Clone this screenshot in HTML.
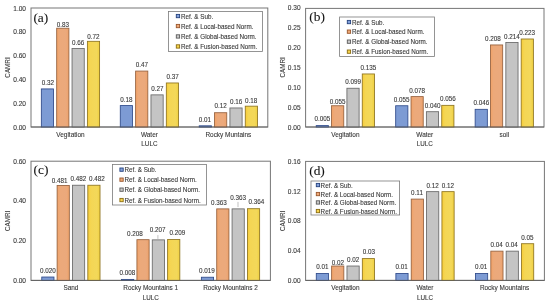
<!DOCTYPE html>
<html><head><meta charset="utf-8"><style>
html,body{margin:0;padding:0;background:#fff;}
body{width:550px;height:305px;overflow:hidden;}
svg{display:block;font-family:"Liberation Sans",sans-serif;filter:blur(0.3px);}
svg text{fill:#383838;stroke:#383838;stroke-width:0.1px;}
</style></head><body>
<svg width="550" height="305" viewBox="0 0 550 305">
<defs>
<linearGradient id="go" x1="0" y1="0" x2="1" y2="0"><stop offset="0" stop-color="#f2a266"/><stop offset="0.25" stop-color="#eca97a"/><stop offset="0.75" stop-color="#eba97c"/><stop offset="1" stop-color="#eea26a"/></linearGradient>
<linearGradient id="gy" x1="0" y1="0" x2="1" y2="0"><stop offset="0" stop-color="#f8cc36"/><stop offset="0.25" stop-color="#f4d654"/><stop offset="0.75" stop-color="#f3d85a"/><stop offset="1" stop-color="#f0d040"/></linearGradient>
</defs>
<rect width="550" height="305" fill="#fff"/>
<rect x="31.00" y="8.00" width="236.80" height="119.00" fill="none" stroke="#767676" stroke-width="1"/>
<text x="26.00" y="127.00" text-anchor="end" font-size="6.55" dominant-baseline="central">0.00</text>
<text x="26.00" y="103.20" text-anchor="end" font-size="6.55" dominant-baseline="central">0.20</text>
<text x="26.00" y="79.40" text-anchor="end" font-size="6.55" dominant-baseline="central">0.40</text>
<text x="26.00" y="55.60" text-anchor="end" font-size="6.55" dominant-baseline="central">0.60</text>
<text x="26.00" y="31.80" text-anchor="end" font-size="6.55" dominant-baseline="central">0.80</text>
<text x="26.00" y="8.00" text-anchor="end" font-size="6.55" dominant-baseline="central">1.00</text>
<rect x="41.34" y="88.92" width="12.20" height="38.08" fill="#7d9bd4" stroke="#2e4a8a" stroke-width="0.85"/>
<text x="47.80" y="82.70" text-anchor="middle" font-size="6.3" dominant-baseline="central">0.32</text>
<rect x="56.69" y="28.23" width="12.20" height="98.77" fill="url(#go)" stroke="#94603e" stroke-width="0.85"/>
<text x="63.00" y="24.30" text-anchor="middle" font-size="6.3" dominant-baseline="central">0.83</text>
<rect x="72.04" y="48.46" width="12.20" height="78.54" fill="#c4c4c4" stroke="#686868" stroke-width="0.85"/>
<text x="78.10" y="42.20" text-anchor="middle" font-size="6.3" dominant-baseline="central">0.66</text>
<rect x="87.39" y="41.32" width="12.20" height="85.68" fill="url(#gy)" stroke="#8e7420" stroke-width="0.85"/>
<text x="93.50" y="36.00" text-anchor="middle" font-size="6.3" dominant-baseline="central">0.72</text>
<text x="70.47" y="134.80" text-anchor="middle" font-size="6.45" dominant-baseline="central">Vegitation</text>
<rect x="120.28" y="105.58" width="12.20" height="21.42" fill="#7d9bd4" stroke="#2e4a8a" stroke-width="0.85"/>
<text x="126.50" y="99.00" text-anchor="middle" font-size="6.3" dominant-baseline="central">0.18</text>
<rect x="135.62" y="71.07" width="12.20" height="55.93" fill="url(#go)" stroke="#94603e" stroke-width="0.85"/>
<text x="142.00" y="64.60" text-anchor="middle" font-size="6.3" dominant-baseline="central">0.47</text>
<rect x="150.97" y="94.87" width="12.20" height="32.13" fill="#c4c4c4" stroke="#686868" stroke-width="0.85"/>
<text x="157.40" y="88.00" text-anchor="middle" font-size="6.3" dominant-baseline="central">0.27</text>
<rect x="166.32" y="82.97" width="12.20" height="44.03" fill="url(#gy)" stroke="#8e7420" stroke-width="0.85"/>
<text x="172.60" y="76.40" text-anchor="middle" font-size="6.3" dominant-baseline="central">0.37</text>
<text x="149.40" y="134.80" text-anchor="middle" font-size="6.45" dominant-baseline="central">Water</text>
<rect x="199.21" y="125.81" width="12.20" height="1.19" fill="#7d9bd4" stroke="#2e4a8a" stroke-width="0.85"/>
<text x="205.00" y="119.30" text-anchor="middle" font-size="6.3" dominant-baseline="central">0.01</text>
<rect x="214.56" y="112.72" width="12.20" height="14.28" fill="url(#go)" stroke="#94603e" stroke-width="0.85"/>
<text x="220.60" y="105.90" text-anchor="middle" font-size="6.3" dominant-baseline="central">0.12</text>
<rect x="229.91" y="107.96" width="12.20" height="19.04" fill="#c4c4c4" stroke="#686868" stroke-width="0.85"/>
<text x="236.20" y="101.40" text-anchor="middle" font-size="6.3" dominant-baseline="central">0.16</text>
<rect x="245.26" y="106.17" width="12.20" height="20.82" fill="url(#gy)" stroke="#8e7420" stroke-width="0.85"/>
<text x="251.10" y="100.00" text-anchor="middle" font-size="6.3" dominant-baseline="central">0.18</text>
<text x="228.33" y="134.80" text-anchor="middle" font-size="6.45" dominant-baseline="central">Rocky Muntains</text>
<line x1="31.00" y1="127.00" x2="267.80" y2="127.00" stroke="#5a5a5a" stroke-width="0.8"/>
<text x="149.40" y="143.40" text-anchor="middle" font-size="6.3" dominant-baseline="central">LULC</text>
<text x="0" y="0" text-anchor="middle" font-size="6.3" dominant-baseline="central" transform="translate(7.60,67.50) rotate(-90)">CAMRI</text>
<text x="33.40" y="21.80" font-family="Liberation Serif, serif" font-size="13.4" style="fill:#111;stroke:#111;stroke-width:0.08px">(a)</text>
<rect x="168.40" y="11.40" width="94.20" height="40.00" fill="#fff" stroke="#7a7a7a" stroke-width="0.8"/>
<rect x="176.30" y="14.40" width="3.3" height="3.3" fill="#84a2dc" stroke="#25427e" stroke-width="0.9"/>
<text x="181.00" y="16.00" text-anchor="start" font-size="6.3" dominant-baseline="central">Ref. &amp; Sub.</text>
<rect x="176.30" y="24.40" width="3.3" height="3.3" fill="#efaa78" stroke="#98562c" stroke-width="0.9"/>
<text x="181.00" y="26.00" text-anchor="start" font-size="6.3" dominant-baseline="central">Ref. &amp; Local-based Norm.</text>
<rect x="176.30" y="34.80" width="3.3" height="3.3" fill="#cbcbcb" stroke="#5a5a5a" stroke-width="0.9"/>
<text x="181.00" y="36.40" text-anchor="start" font-size="6.3" dominant-baseline="central">Ref. &amp; Global-based Norm.</text>
<rect x="176.30" y="44.80" width="3.3" height="3.3" fill="#f7d54e" stroke="#8a6c10" stroke-width="0.9"/>
<text x="181.00" y="46.40" text-anchor="start" font-size="6.3" dominant-baseline="central">Ref. &amp; Fusion-based Norm.</text>
<rect x="305.60" y="8.40" width="238.40" height="118.60" fill="none" stroke="#767676" stroke-width="1"/>
<text x="300.60" y="127.00" text-anchor="end" font-size="6.55" dominant-baseline="central">0.00</text>
<text x="300.60" y="107.13" text-anchor="end" font-size="6.55" dominant-baseline="central">0.05</text>
<text x="300.60" y="87.27" text-anchor="end" font-size="6.55" dominant-baseline="central">0.10</text>
<text x="300.60" y="67.40" text-anchor="end" font-size="6.55" dominant-baseline="central">0.15</text>
<text x="300.60" y="47.53" text-anchor="end" font-size="6.55" dominant-baseline="central">0.20</text>
<text x="300.60" y="27.67" text-anchor="end" font-size="6.55" dominant-baseline="central">0.25</text>
<text x="300.60" y="7.80" text-anchor="end" font-size="6.55" dominant-baseline="central">0.30</text>
<rect x="316.21" y="125.61" width="12.20" height="1.39" fill="#7d9bd4" stroke="#2e4a8a" stroke-width="0.85"/>
<text x="322.30" y="118.80" text-anchor="middle" font-size="6.3" dominant-baseline="central">0.005</text>
<rect x="331.56" y="105.75" width="12.20" height="21.25" fill="url(#go)" stroke="#94603e" stroke-width="0.85"/>
<text x="337.70" y="101.60" text-anchor="middle" font-size="6.3" dominant-baseline="central">0.055</text>
<rect x="346.91" y="88.26" width="12.20" height="38.74" fill="#c4c4c4" stroke="#686868" stroke-width="0.85"/>
<text x="353.10" y="81.90" text-anchor="middle" font-size="6.3" dominant-baseline="central">0.099</text>
<rect x="362.26" y="73.96" width="12.20" height="53.04" fill="url(#gy)" stroke="#8e7420" stroke-width="0.85"/>
<text x="368.40" y="67.50" text-anchor="middle" font-size="6.3" dominant-baseline="central">0.135</text>
<text x="345.33" y="134.60" text-anchor="middle" font-size="6.45" dominant-baseline="central">Vegitation</text>
<rect x="395.68" y="105.75" width="12.20" height="21.25" fill="#7d9bd4" stroke="#2e4a8a" stroke-width="0.85"/>
<text x="401.60" y="99.40" text-anchor="middle" font-size="6.3" dominant-baseline="central">0.055</text>
<rect x="411.03" y="96.61" width="12.20" height="30.39" fill="url(#go)" stroke="#94603e" stroke-width="0.85"/>
<text x="417.20" y="90.20" text-anchor="middle" font-size="6.3" dominant-baseline="central">0.078</text>
<rect x="426.38" y="111.71" width="12.20" height="15.29" fill="#c4c4c4" stroke="#686868" stroke-width="0.85"/>
<text x="432.70" y="105.40" text-anchor="middle" font-size="6.3" dominant-baseline="central">0.040</text>
<rect x="441.73" y="105.35" width="12.20" height="21.65" fill="url(#gy)" stroke="#8e7420" stroke-width="0.85"/>
<text x="447.80" y="98.70" text-anchor="middle" font-size="6.3" dominant-baseline="central">0.056</text>
<text x="424.80" y="134.60" text-anchor="middle" font-size="6.45" dominant-baseline="central">Water</text>
<rect x="475.14" y="109.32" width="12.20" height="17.68" fill="#7d9bd4" stroke="#2e4a8a" stroke-width="0.85"/>
<text x="481.40" y="102.60" text-anchor="middle" font-size="6.3" dominant-baseline="central">0.046</text>
<rect x="490.49" y="44.95" width="12.20" height="82.05" fill="url(#go)" stroke="#94603e" stroke-width="0.85"/>
<text x="493.00" y="38.70" text-anchor="middle" font-size="6.3" dominant-baseline="central">0.208</text>
<rect x="505.84" y="42.57" width="12.20" height="84.43" fill="#c4c4c4" stroke="#686868" stroke-width="0.85"/>
<text x="512.00" y="36.20" text-anchor="middle" font-size="6.3" dominant-baseline="central">0.214</text>
<rect x="521.19" y="38.99" width="12.20" height="88.01" fill="url(#gy)" stroke="#8e7420" stroke-width="0.85"/>
<text x="527.10" y="32.50" text-anchor="middle" font-size="6.3" dominant-baseline="central">0.223</text>
<text x="504.27" y="134.60" text-anchor="middle" font-size="6.45" dominant-baseline="central">soil</text>
<line x1="305.60" y1="127.00" x2="544.00" y2="127.00" stroke="#5a5a5a" stroke-width="0.8"/>
<text x="424.80" y="143.40" text-anchor="middle" font-size="6.3" dominant-baseline="central">LULC</text>
<text x="0" y="0" text-anchor="middle" font-size="6.3" dominant-baseline="central" transform="translate(282.50,67.40) rotate(-90)">CAMRI</text>
<text x="309.30" y="21.00" font-family="Liberation Serif, serif" font-size="13.4" style="fill:#111;stroke:#111;stroke-width:0.08px">(b)</text>
<rect x="339.60" y="17.00" width="94.80" height="39.40" fill="#fff" stroke="#7a7a7a" stroke-width="0.8"/>
<rect x="347.30" y="20.40" width="3.3" height="3.3" fill="#84a2dc" stroke="#25427e" stroke-width="0.9"/>
<text x="352.00" y="22.00" text-anchor="start" font-size="6.3" dominant-baseline="central">Ref. &amp; Sub.</text>
<rect x="347.30" y="30.00" width="3.3" height="3.3" fill="#efaa78" stroke="#98562c" stroke-width="0.9"/>
<text x="352.00" y="31.60" text-anchor="start" font-size="6.3" dominant-baseline="central">Ref. &amp; Local-based Norm.</text>
<rect x="347.30" y="40.00" width="3.3" height="3.3" fill="#cbcbcb" stroke="#5a5a5a" stroke-width="0.9"/>
<text x="352.00" y="41.60" text-anchor="start" font-size="6.3" dominant-baseline="central">Ref. &amp; Global-based Norm.</text>
<rect x="347.30" y="50.00" width="3.3" height="3.3" fill="#f7d54e" stroke="#8a6c10" stroke-width="0.9"/>
<text x="352.00" y="51.60" text-anchor="start" font-size="6.3" dominant-baseline="central">Ref. &amp; Fusion-based Norm.</text>
<rect x="31.00" y="161.20" width="239.40" height="119.20" fill="none" stroke="#767676" stroke-width="1"/>
<text x="26.00" y="280.40" text-anchor="end" font-size="6.55" dominant-baseline="central">0.00</text>
<text x="26.00" y="240.67" text-anchor="end" font-size="6.55" dominant-baseline="central">0.20</text>
<text x="26.00" y="200.93" text-anchor="end" font-size="6.55" dominant-baseline="central">0.40</text>
<text x="26.00" y="161.20" text-anchor="end" font-size="6.55" dominant-baseline="central">0.60</text>
<rect x="41.77" y="277.03" width="12.20" height="3.37" fill="#7d9bd4" stroke="#2e4a8a" stroke-width="0.85"/>
<text x="48.00" y="270.10" text-anchor="middle" font-size="6.3" dominant-baseline="central">0.020</text>
<rect x="57.12" y="185.44" width="12.20" height="94.96" fill="url(#go)" stroke="#94603e" stroke-width="0.85"/>
<text x="59.70" y="180.40" text-anchor="middle" font-size="6.3" dominant-baseline="central">0.481</text>
<rect x="72.47" y="185.24" width="12.20" height="95.16" fill="#c4c4c4" stroke="#686868" stroke-width="0.85"/>
<text x="78.50" y="178.70" text-anchor="middle" font-size="6.3" dominant-baseline="central">0.482</text>
<rect x="87.82" y="185.24" width="12.20" height="95.16" fill="url(#gy)" stroke="#8e7420" stroke-width="0.85"/>
<text x="97.00" y="178.70" text-anchor="middle" font-size="6.3" dominant-baseline="central">0.482</text>
<text x="70.90" y="287.60" text-anchor="middle" font-size="6.45" dominant-baseline="central">Sand</text>
<rect x="121.57" y="279.41" width="12.20" height="0.99" fill="#7d9bd4" stroke="#2e4a8a" stroke-width="0.85"/>
<text x="127.50" y="272.30" text-anchor="middle" font-size="6.3" dominant-baseline="central">0.008</text>
<rect x="136.92" y="239.68" width="12.20" height="40.72" fill="url(#go)" stroke="#94603e" stroke-width="0.85"/>
<text x="135.00" y="233.20" text-anchor="middle" font-size="6.3" dominant-baseline="central">0.208</text>
<rect x="152.27" y="239.88" width="12.20" height="40.52" fill="#c4c4c4" stroke="#686868" stroke-width="0.85"/>
<text x="157.60" y="229.90" text-anchor="middle" font-size="6.3" dominant-baseline="central">0.207</text>
<rect x="167.62" y="239.48" width="12.20" height="40.92" fill="url(#gy)" stroke="#8e7420" stroke-width="0.85"/>
<text x="177.40" y="232.90" text-anchor="middle" font-size="6.3" dominant-baseline="central">0.209</text>
<text x="150.70" y="287.60" text-anchor="middle" font-size="6.45" dominant-baseline="central">Rocky Mountains 1</text>
<rect x="201.38" y="277.23" width="12.20" height="3.17" fill="#7d9bd4" stroke="#2e4a8a" stroke-width="0.85"/>
<text x="207.00" y="270.20" text-anchor="middle" font-size="6.3" dominant-baseline="central">0.019</text>
<rect x="216.72" y="208.88" width="12.20" height="71.52" fill="url(#go)" stroke="#94603e" stroke-width="0.85"/>
<text x="218.80" y="202.40" text-anchor="middle" font-size="6.3" dominant-baseline="central">0.363</text>
<rect x="232.07" y="208.88" width="12.20" height="71.52" fill="#c4c4c4" stroke="#686868" stroke-width="0.85"/>
<text x="238.20" y="197.00" text-anchor="middle" font-size="6.3" dominant-baseline="central">0.363</text>
<rect x="247.43" y="208.69" width="12.20" height="71.71" fill="url(#gy)" stroke="#8e7420" stroke-width="0.85"/>
<text x="256.50" y="201.50" text-anchor="middle" font-size="6.3" dominant-baseline="central">0.364</text>
<text x="230.50" y="287.60" text-anchor="middle" font-size="6.45" dominant-baseline="central">Rocky Mountains 2</text>
<line x1="31.00" y1="280.40" x2="270.40" y2="280.40" stroke="#5a5a5a" stroke-width="0.8"/>
<line x1="157.90" y1="235.10" x2="157.90" y2="238.90" stroke="#999" stroke-width="0.6"/>
<line x1="238.00" y1="201.90" x2="238.00" y2="207.10" stroke="#999" stroke-width="0.6"/>
<text x="150.70" y="297.00" text-anchor="middle" font-size="6.3" dominant-baseline="central">LULC</text>
<text x="0" y="0" text-anchor="middle" font-size="6.3" dominant-baseline="central" transform="translate(7.60,220.80) rotate(-90)">CAMRI</text>
<text x="33.60" y="174.10" font-family="Liberation Serif, serif" font-size="13.4" style="fill:#111;stroke:#111;stroke-width:0.08px">(c)</text>
<rect x="112.40" y="164.40" width="94.00" height="40.60" fill="#fff" stroke="#7a7a7a" stroke-width="0.8"/>
<rect x="119.90" y="168.00" width="3.3" height="3.3" fill="#84a2dc" stroke="#25427e" stroke-width="0.9"/>
<text x="124.40" y="169.60" text-anchor="start" font-size="6.3" dominant-baseline="central">Ref. &amp; Sub.</text>
<rect x="119.90" y="178.00" width="3.3" height="3.3" fill="#efaa78" stroke="#98562c" stroke-width="0.9"/>
<text x="124.40" y="179.60" text-anchor="start" font-size="6.3" dominant-baseline="central">Ref. &amp; Local-based Norm.</text>
<rect x="119.90" y="188.00" width="3.3" height="3.3" fill="#cbcbcb" stroke="#5a5a5a" stroke-width="0.9"/>
<text x="124.40" y="189.60" text-anchor="start" font-size="6.3" dominant-baseline="central">Ref. &amp; Global-based Norm.</text>
<rect x="119.90" y="198.40" width="3.3" height="3.3" fill="#f7d54e" stroke="#8a6c10" stroke-width="0.9"/>
<text x="124.40" y="200.00" text-anchor="start" font-size="6.3" dominant-baseline="central">Ref. &amp; Fusion-based Norm.</text>
<rect x="305.60" y="161.40" width="238.80" height="119.00" fill="none" stroke="#767676" stroke-width="1"/>
<text x="300.60" y="280.40" text-anchor="end" font-size="6.55" dominant-baseline="central">0.00</text>
<text x="300.60" y="250.65" text-anchor="end" font-size="6.55" dominant-baseline="central">0.04</text>
<text x="300.60" y="220.90" text-anchor="end" font-size="6.55" dominant-baseline="central">0.08</text>
<text x="300.60" y="191.15" text-anchor="end" font-size="6.55" dominant-baseline="central">0.12</text>
<text x="300.60" y="161.40" text-anchor="end" font-size="6.55" dominant-baseline="central">0.16</text>
<rect x="316.28" y="273.46" width="12.20" height="6.94" fill="#7d9bd4" stroke="#2e4a8a" stroke-width="0.85"/>
<text x="322.40" y="266.80" text-anchor="middle" font-size="6.3" dominant-baseline="central">0.01</text>
<rect x="331.63" y="266.02" width="12.20" height="14.37" fill="url(#go)" stroke="#94603e" stroke-width="0.85"/>
<text x="338.00" y="262.40" text-anchor="middle" font-size="6.3" dominant-baseline="central">0.02</text>
<rect x="346.98" y="266.02" width="12.20" height="14.37" fill="#c4c4c4" stroke="#686868" stroke-width="0.85"/>
<text x="353.20" y="259.40" text-anchor="middle" font-size="6.3" dominant-baseline="central">0.02</text>
<rect x="362.33" y="258.59" width="12.20" height="21.81" fill="url(#gy)" stroke="#8e7420" stroke-width="0.85"/>
<text x="368.80" y="251.60" text-anchor="middle" font-size="6.3" dominant-baseline="central">0.03</text>
<text x="345.40" y="287.60" text-anchor="middle" font-size="6.45" dominant-baseline="central">Vegitation</text>
<rect x="395.88" y="273.46" width="12.20" height="6.94" fill="#7d9bd4" stroke="#2e4a8a" stroke-width="0.85"/>
<text x="401.60" y="266.80" text-anchor="middle" font-size="6.3" dominant-baseline="central">0.01</text>
<rect x="411.23" y="199.09" width="12.20" height="81.31" fill="url(#go)" stroke="#94603e" stroke-width="0.85"/>
<text x="417.00" y="192.60" text-anchor="middle" font-size="6.3" dominant-baseline="central">0.11</text>
<rect x="426.57" y="191.65" width="12.20" height="88.75" fill="#c4c4c4" stroke="#686868" stroke-width="0.85"/>
<text x="432.60" y="185.00" text-anchor="middle" font-size="6.3" dominant-baseline="central">0.12</text>
<rect x="441.93" y="191.65" width="12.20" height="88.75" fill="url(#gy)" stroke="#8e7420" stroke-width="0.85"/>
<text x="447.80" y="185.00" text-anchor="middle" font-size="6.3" dominant-baseline="central">0.12</text>
<text x="425.00" y="287.60" text-anchor="middle" font-size="6.45" dominant-baseline="central">Water</text>
<rect x="475.47" y="273.46" width="12.20" height="6.94" fill="#7d9bd4" stroke="#2e4a8a" stroke-width="0.85"/>
<text x="481.10" y="266.80" text-anchor="middle" font-size="6.3" dominant-baseline="central">0.01</text>
<rect x="490.82" y="251.15" width="12.20" height="29.25" fill="url(#go)" stroke="#94603e" stroke-width="0.85"/>
<text x="496.70" y="244.50" text-anchor="middle" font-size="6.3" dominant-baseline="central">0.04</text>
<rect x="506.17" y="251.15" width="12.20" height="29.25" fill="#c4c4c4" stroke="#686868" stroke-width="0.85"/>
<text x="511.70" y="244.50" text-anchor="middle" font-size="6.3" dominant-baseline="central">0.04</text>
<rect x="521.52" y="243.71" width="12.20" height="36.69" fill="url(#gy)" stroke="#8e7420" stroke-width="0.85"/>
<text x="527.40" y="237.10" text-anchor="middle" font-size="6.3" dominant-baseline="central">0.05</text>
<text x="504.60" y="287.60" text-anchor="middle" font-size="6.45" dominant-baseline="central">Rocky Mountains</text>
<line x1="305.60" y1="280.40" x2="544.40" y2="280.40" stroke="#5a5a5a" stroke-width="0.8"/>
<text x="425.00" y="297.00" text-anchor="middle" font-size="6.3" dominant-baseline="central">LULC</text>
<text x="0" y="0" text-anchor="middle" font-size="6.3" dominant-baseline="central" transform="translate(282.50,220.90) rotate(-90)">CAMRI</text>
<text x="309.20" y="174.50" font-family="Liberation Serif, serif" font-size="13.4" style="fill:#111;stroke:#111;stroke-width:0.08px">(d)</text>
<rect x="311.00" y="181.00" width="88.60" height="34.00" fill="#fff" stroke="#7a7a7a" stroke-width="0.8"/>
<rect x="316.30" y="183.40" width="3.3" height="3.3" fill="#84a2dc" stroke="#25427e" stroke-width="0.9"/>
<text x="320.60" y="185.00" text-anchor="start" font-size="6.3" dominant-baseline="central">Ref. &amp; Sub.</text>
<rect x="316.30" y="192.40" width="3.3" height="3.3" fill="#efaa78" stroke="#98562c" stroke-width="0.9"/>
<text x="320.60" y="194.00" text-anchor="start" font-size="6.3" dominant-baseline="central">Ref. &amp; Local-based Norm.</text>
<rect x="316.30" y="200.80" width="3.3" height="3.3" fill="#cbcbcb" stroke="#5a5a5a" stroke-width="0.9"/>
<text x="320.60" y="202.40" text-anchor="start" font-size="6.3" dominant-baseline="central">Ref. &amp; Global-based Norm.</text>
<rect x="316.30" y="209.40" width="3.3" height="3.3" fill="#f7d54e" stroke="#8a6c10" stroke-width="0.9"/>
<text x="320.60" y="211.00" text-anchor="start" font-size="6.3" dominant-baseline="central">Ref. &amp; Fusion-based Norm.</text>
</svg>
</body></html>
